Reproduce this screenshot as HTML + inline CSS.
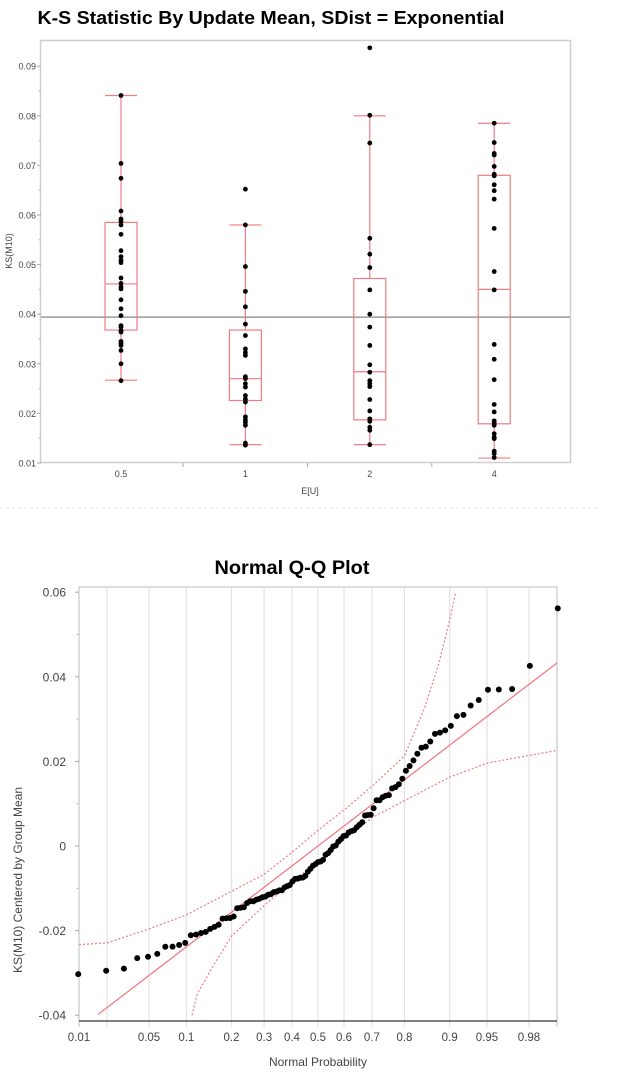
<!DOCTYPE html>
<html><head><meta charset="utf-8"><style>
html,body{margin:0;padding:0;background:#fff;}
svg{display:block;font-family:"Liberation Sans",sans-serif;}
</style></head><body>
<svg id="root" width="630" height="1085" viewBox="0 0 630 1085">
<text x="271" y="24" text-anchor="middle" font-size="18" font-weight="bold" fill="#000" textLength="467" lengthAdjust="spacingAndGlyphs">K-S Statistic By Update Mean, SDist = Exponential</text>
<rect x="40.5" y="40.5" width="530" height="422" fill="none" stroke="#cfcfcf" stroke-width="1.5"/>
<g id="top-axes"></g>
<g id="top-marks"></g>
<text transform="translate(12,251) rotate(-90)" text-anchor="middle" font-size="9" fill="#444">KS(M10)</text>
<text x="310" y="494" text-anchor="middle" font-size="9" fill="#444">E[U]</text>
<line x1="0" y1="508" x2="600" y2="508" stroke="#e4e4e4" stroke-dasharray="3,3"/>
<text x="292" y="574" text-anchor="middle" font-size="19" font-weight="bold" fill="#000" textLength="155" lengthAdjust="spacingAndGlyphs">Normal Q-Q Plot</text>
<g id="bot"></g>
<text transform="translate(22,880) rotate(-90)" text-anchor="middle" font-size="12" fill="#444">KS(M10) Centered by Group Mean</text>
<text x="318" y="1066" text-anchor="middle" font-size="12" fill="#444">Normal Probability</text>
</svg>
<script>
const categories = ["0.5","1","2","4"];
const g05 = [0.0841,0.0704,0.0674,0.0608,0.0592,0.0587,0.0580,0.0561,0.0528,0.0516,0.0509,0.0504,0.0473,0.0462,0.0455,0.0451,0.0429,0.0411,0.0397,0.0377,0.0374,0.0367,0.0364,0.0345,0.0341,0.0337,0.0327,0.0300,0.0266];
const g1 = [0.0652,0.0580,0.0496,0.0446,0.0415,0.0380,0.0357,0.0330,0.0323,0.0317,0.0274,0.0270,0.0260,0.0253,0.0236,0.0229,0.0223,0.0193,0.0187,0.0182,0.0176,0.0140,0.0136];
const g2 = [0.0937,0.0801,0.0745,0.0553,0.0521,0.0494,0.0449,0.0400,0.0374,0.0337,0.0298,0.0283,0.0266,0.0260,0.0254,0.0228,0.0205,0.0189,0.0184,0.0172,0.0166,0.0137];
const g4 = [0.0785,0.0746,0.0724,0.0721,0.0698,0.0682,0.0679,0.0661,0.0649,0.0632,0.0573,0.0486,0.0449,0.0339,0.0309,0.0268,0.0218,0.0203,0.0185,0.0180,0.0176,0.0159,0.0152,0.0149,0.0124,0.0119,0.0111];
const groups = [g05,g1,g2,g4];
const boxQ1 = [0.0368,0.0226,0.0187,0.0179];
const boxMedian = [0.0461,0.0270,0.0284,0.0450];
const boxQ3 = [0.0585,0.0368,0.0472,0.0680];
const whiskerLow = [0.0267,0.0137,0.0137,0.0110];
const whiskerHigh = [0.0841,0.0580,0.0800,0.0785];
const grandMean = 0.0394;
const topYTicks = [0.01,0.02,0.03,0.04,0.05,0.06,0.07,0.08,0.09];
const probGrid = [0.02,0.05,0.1,0.2,0.3,0.4,0.5,0.6,0.7,0.8,0.9,0.95,0.98];
const probLabelValues = [0.01,0.05,0.1,0.2,0.3,0.4,0.5,0.6,0.7,0.8,0.9,0.95,0.98];
const probLabels = ["0.01","0.05","0.1","0.2","0.3","0.4","0.5","0.6","0.7","0.8","0.9","0.95","0.98"];
const qqYTicks = [-0.04,-0.02,0,0.02,0.04,0.06];
const fitSlope = 0.0186;
const fitIntercept = 0.0;
const bandUpperP = [0.01,0.02,0.05,0.1,0.2,0.3,0.4,0.5,0.6,0.7,0.8,0.85,0.88,0.9,0.91];
const bandUpperV = [-0.0233,-0.0229,-0.0196,-0.0163,-0.0107,-0.0067,-0.0015,0.0037,0.0085,0.0141,0.0213,0.0326,0.043,0.0534,0.06];
const bandLowerP = [0.11,0.12,0.15,0.2,0.3,0.4,0.5,0.6,0.7,0.8,0.9,0.95,0.98,0.99];
const bandLowerV = [-0.04,-0.035,-0.029,-0.0213,-0.0141,-0.0085,-0.0037,0.0015,0.0067,0.0107,0.0163,0.0196,0.0214,0.0226];

const NS="http://www.w3.org/2000/svg";
function mk(parent,tag,attrs){const e=document.createElementNS(NS,tag);for(const k in attrs)e.setAttribute(k,attrs[k]);parent.appendChild(e);return e;}
const ty = v => 463 - (v-0.01)/0.01*49.6;
const tx = i => 121 + i*124.4;
const ta=document.getElementById('top-axes'), tm=document.getElementById('top-marks');
topYTicks.forEach(v=>{
  const t=mk(ta,'text',{x:36,y:ty(v)+3.5,'text-anchor':'end','font-size':9,fill:'#444'});t.textContent=v.toFixed(2);
  
  
  const l=mk(ta,'line',{x1:37,x2:41,y1:ty(v),y2:ty(v),stroke:'#aaa'});
  
  
  if(v<0.09){const m=mk(ta,'line',{x1:38.5,x2:41,y1:ty(v+0.005),y2:ty(v+0.005),stroke:'#bbb'});
  
  }
});
categories.forEach((c,i)=>{
  const t=mk(ta,'text',{x:tx(i),y:477,'text-anchor':'middle','font-size':9,fill:'#444'});t.textContent=c;
  
  
  if(i<3){const l=mk(ta,'line',{x1:tx(i)+62,x2:tx(i)+62,y1:463,y2:467,stroke:'#aaa'});
  
  }
});
const ml=mk(tm,'line',{x1:41,x2:570,y1:ty(grandMean),y2:ty(grandMean),stroke:'#999','stroke-width':1.5});


const red='#f07c84';
categories.forEach((c,i)=>{
  const x=tx(i), w=16, cap=16;
  const g=mk(tm,'g',{});
  
  
  mk(g,'line',{x1:x,x2:x,y1:ty(whiskerHigh[i]),y2:ty(boxQ3[i]),stroke:red,'stroke-width':1.2});
  mk(g,'line',{x1:x,x2:x,y1:ty(boxQ1[i]),y2:ty(whiskerLow[i]),stroke:red,'stroke-width':1.2});
  mk(g,'line',{x1:x-cap,x2:x+cap,y1:ty(whiskerHigh[i]),y2:ty(whiskerHigh[i]),stroke:red,'stroke-width':1.2});
  mk(g,'line',{x1:x-cap,x2:x+cap,y1:ty(whiskerLow[i]),y2:ty(whiskerLow[i]),stroke:red,'stroke-width':1.2});
  mk(g,'rect',{x:x-w,y:ty(boxQ3[i]),width:2*w,height:ty(boxQ1[i])-ty(boxQ3[i]),fill:'none',stroke:red,'stroke-width':1.2});
  mk(g,'line',{x1:x-w,x2:x+w,y1:ty(boxMedian[i]),y2:ty(boxMedian[i]),stroke:red,'stroke-width':1.2});
  groups[i].forEach(v=>{
    const p=mk(g,'circle',{cx:x,cy:ty(v),r:2.4,fill:'#000'});
    
    
  });
});
const bot=document.getElementById('bot');
function qnorm(p){
  const a=[-39.6968302866538,220.946098424521,-275.928510446969,138.357751867269,-30.6647980661472,2.50662827745924];
  const b=[-54.4760987982241,161.585836858041,-155.698979859887,66.8013118877197,-13.2806815528857];
  const c=[-0.00778489400243029,-0.322396458041136,-2.40075827716184,-2.54973253934373,4.37466414146497,2.93816398269878];
  const d=[0.00778469570904146,0.32246712907004,2.445134137143,3.75440866190742];
  let q,r;
  if(p<0.02425){q=Math.sqrt(-2*Math.log(p));return (((((c[0]*q+c[1])*q+c[2])*q+c[3])*q+c[4])*q+c[5])/((((d[0]*q+d[1])*q+d[2])*q+d[3])*q+1);}
  if(p>1-0.02425){q=Math.sqrt(-2*Math.log(1-p));return -(((((c[0]*q+c[1])*q+c[2])*q+c[3])*q+c[4])*q+c[5])/((((d[0]*q+d[1])*q+d[2])*q+d[3])*q+1);}
  q=p-0.5;r=q*q;return (((((a[0]*r+a[1])*r+a[2])*r+a[3])*r+a[4])*r+a[5])*q/(((((b[0]*r+b[1])*r+b[2])*r+b[3])*r+b[4])*r+1);
}
const zMax=qnorm(0.99);
const qx = z => 318 + z/zMax*239;
const qy = v => 846 - v/0.01*42.3;
const X0=79, X1=557, Y0=587, Y1=1021;
probGrid.forEach(p=>{
  const l=mk(bot,'line',{x1:qx(qnorm(p)),x2:qx(qnorm(p)),y1:Y0,y2:1027,stroke:'#e2e2e2','stroke-width':1.2});
  
  
});
const fr=mk(bot,'path',{d:`M${X0},${Y1+6} V${Y0} H${X1} V${Y1+6}`,fill:'none',stroke:'#d4d4d4','stroke-width':1.5});


const ax=mk(bot,'line',{x1:X0,x2:X1,y1:Y1,y2:Y1,stroke:'#555','stroke-width':1.5});


qqYTicks.forEach(v=>{
  const t=mk(bot,'text',{x:66,y:qy(v)+4.5,'text-anchor':'end','font-size':12,fill:'#444'});t.textContent=(v===0?'0':v.toFixed(2));
  
  
  mk(bot,'line',{x1:75,x2:X0,y1:qy(v),y2:qy(v),stroke:'#aaa'});
  if(v<0.06){mk(bot,'line',{x1:76.5,x2:X0,y1:qy(v+0.01),y2:qy(v+0.01),stroke:'#bbb'});}
});
probLabelValues.forEach((p,i)=>{
  const t=mk(bot,'text',{x:qx(qnorm(p)),y:1041,'text-anchor':'middle','font-size':11.5,fill:'#444'});t.textContent=probLabels[i];
  
  
});
function band(P,V,name){
  const d=P.map((p,i)=>(i?'L':'M')+qx(qnorm(p)).toFixed(1)+','+qy(V[i]).toFixed(1)).join(' ');
  const e=mk(bot,'path',{d:d,fill:'none',stroke:red,'stroke-width':1.2,'stroke-dasharray':'2,2'});
  
  
}
band(bandUpperP,bandUpperV,'upper-confidence-band');
band(bandLowerP,bandLowerV,'lower-confidence-band');
const zs=-2.14, ze=zMax;
const fl=mk(bot,'line',{x1:qx(zs),y1:qy(fitIntercept+fitSlope*zs),x2:qx(ze),y2:qy(fitIntercept+fitSlope*ze),stroke:red,'stroke-width':1.3});


let resid=[];
groups.forEach(g=>{const m=g.reduce((a,b)=>a+b,0)/g.length;g.forEach(v=>resid.push(v-m));});
resid.sort((a,b)=>a-b);
const n=resid.length;
resid.forEach((v,i)=>{
  const p=(i+1)/(n+1);
  const c=mk(bot,'circle',{cx:qx(qnorm(p)),cy:qy(v),r:3,fill:'#000'});
  
  
});
</script>
</body></html>
